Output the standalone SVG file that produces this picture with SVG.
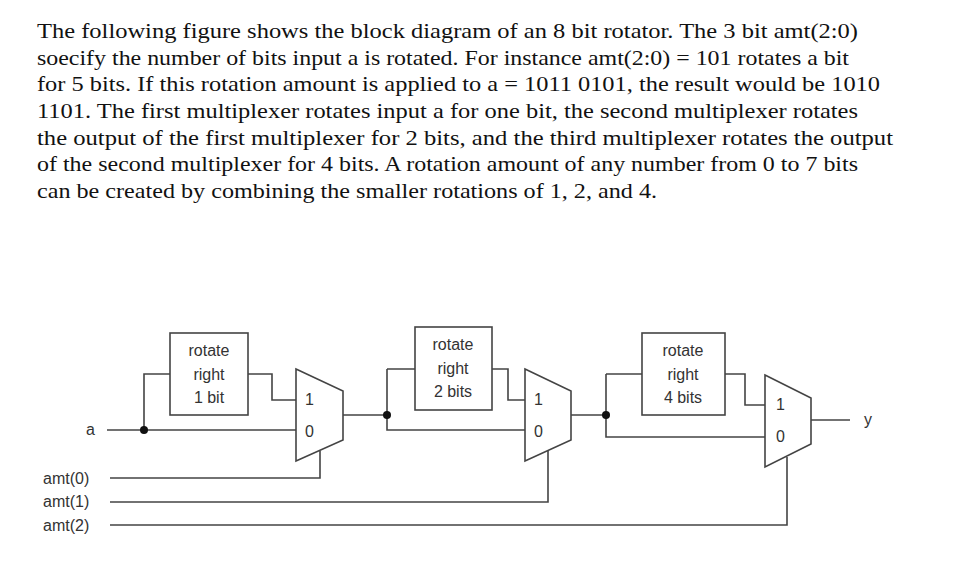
<svg xmlns="http://www.w3.org/2000/svg" width="967" height="587" viewBox="0 0 967 587">
<style>
.t{font-family:"Liberation Serif",serif;font-size:21px;fill:#111}
.l{font-family:"Liberation Sans",Arial,sans-serif;font-size:16px;fill:#333}
.c{text-anchor:middle}
.w{fill:none;stroke:#444;stroke-width:1.6}
.b{fill:#fff;stroke:#444;stroke-width:1.6}
</style>
<rect width="967" height="587" fill="#fff"/>
<g id="para">
<text class="t" x="37" y="38" textLength="821" lengthAdjust="spacingAndGlyphs">The following figure shows the block diagram of an 8 bit rotator. The 3 bit amt(2:0)</text>
<text class="t" x="37" y="65" textLength="812" lengthAdjust="spacingAndGlyphs">soecify the number of bits input a is rotated. For instance amt(2:0) = 101 rotates a bit</text>
<text class="t" x="37" y="91" textLength="843" lengthAdjust="spacingAndGlyphs">for 5 bits. If this rotation amount is applied to a = 1011 0101, the result would be 1010</text>
<text class="t" x="37" y="118" textLength="821" lengthAdjust="spacingAndGlyphs">1101. The first multiplexer rotates input a for one bit, the second multiplexer rotates</text>
<text class="t" x="37" y="145" textLength="856" lengthAdjust="spacingAndGlyphs">the output of the first multiplexer for 2 bits, and the third multiplexer rotates the output</text>
<text class="t" x="37" y="171" textLength="821" lengthAdjust="spacingAndGlyphs">of the second multiplexer for 4 bits. A rotation amount of any number from 0 to 7 bits</text>
<text class="t" x="37" y="198" textLength="620" lengthAdjust="spacingAndGlyphs">can be created by combining the smaller rotations of 1, 2, and 4.</text>
</g>
<g id="connectors">
<path class="w" d="M107 430H296M144 430V374H170M248 374H272V400H296"/>
<path class="w" d="M110 478H320V451"/>
<path class="w" d="M110 502H548V451"/>
<path class="w" d="M110 525H787V457"/>
<path class="w" d="M343 415H387M387 369H415M387 369V430H525M492 369H508V400H525"/>
<path class="w" d="M571 415H606M606 374H642M606 374V437H765M725 374H745V405H765"/>
<path class="w" d="M811 420H850"/>
<circle cx="144" cy="430" r="4" fill="#111"/>
<circle cx="387" cy="415" r="4" fill="#111"/>
<circle cx="606" cy="415" r="4" fill="#111"/>
</g>
<g id="rot1"><rect class="b" x="170" y="333" width="78" height="82"/>
<text class="l c" x="209" y="356">rotate</text><text class="l c" x="209" y="380">right</text><text class="l c" x="209" y="403">1 bit</text></g>
<g id="rot2"><rect class="b" x="415" y="327" width="77" height="83"/>
<text class="l c" x="453" y="350">rotate</text><text class="l c" x="453" y="374">right</text><text class="l c" x="453" y="397">2 bits</text></g>
<g id="rot4"><rect class="b" x="642" y="333" width="83" height="82"/>
<text class="l c" x="683" y="356">rotate</text><text class="l c" x="683" y="380">right</text><text class="l c" x="683" y="403">4 bits</text></g>
<g id="mux1"><path class="b" d="M296 369L343 391V440L296 461Z"/>
<text class="l" x="305" y="405" font-size="14">1</text><text class="l" x="305" y="437" font-size="14">0</text></g>
<g id="mux2"><path class="b" d="M525 369L571 391V440L525 461Z"/>
<text class="l" x="534" y="405" font-size="14">1</text><text class="l" x="534" y="437" font-size="14">0</text></g>
<g id="mux3"><path class="b" d="M765 375L811 398V444L765 467Z"/>
<text class="l" x="776" y="410" font-size="14">1</text><text class="l" x="776" y="442" font-size="14">0</text></g>
<g id="labels">
<text class="l" x="86" y="435">a</text>
<text class="l" x="864" y="425">y</text>
<text class="l" x="43" y="484">amt(0)</text>
<text class="l" x="43" y="507">amt(1)</text>
<text class="l" x="43" y="531">amt(2)</text>
</g>
</svg>
